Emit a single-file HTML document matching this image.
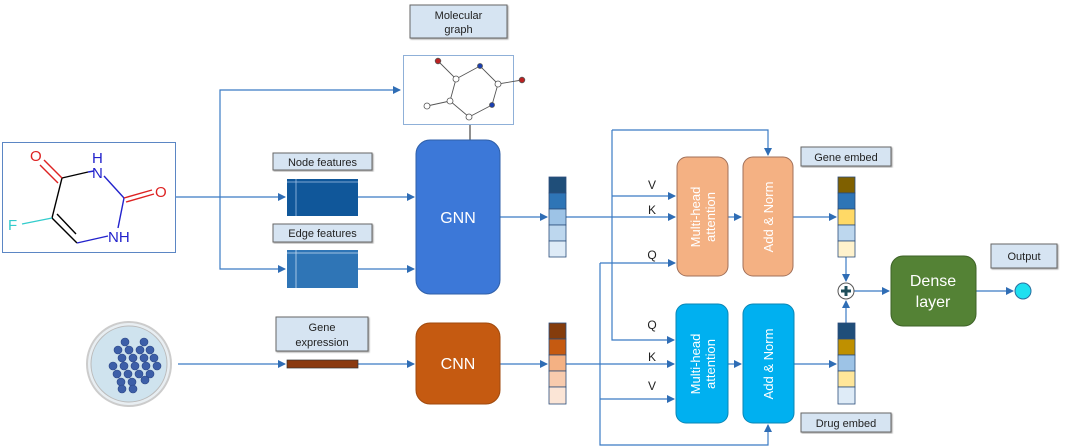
<!DOCTYPE html>
<html><head><meta charset="utf-8"><style>
body{margin:0;background:#fff;}
svg{display:block;font-family:"Liberation Sans",sans-serif;}
</style></head><body>
<svg width="1080" height="448" viewBox="0 0 1080 448" xmlns="http://www.w3.org/2000/svg">
<defs>
<marker id="a" markerWidth="8" markerHeight="8" refX="7" refY="4" orient="auto" markerUnits="userSpaceOnUse"><path d="M0,0 L8,4 L0,8 z" fill="#2f6db5"/></marker>
<filter id="sh"><feDropShadow dx="1" dy="1" stdDeviation="0.8" flood-color="#666" flood-opacity="0.6"/></filter>
</defs>
<g stroke="#3b7bc4" stroke-width="1.2" fill="none">
<path d="M176,197 H285" marker-end="url(#a)"/>
<path d="M220,197 V90 H400" marker-end="url(#a)"/>
<path d="M220,197 V269 H285" marker-end="url(#a)"/>
<path d="M358,197 H414" marker-end="url(#a)"/>
<path d="M358,269 H414" marker-end="url(#a)"/>
<path d="M178,364 H285" marker-end="url(#a)"/>
<path d="M358,364 H414" marker-end="url(#a)"/>
<path d="M500,217 H547" marker-end="url(#a)"/>
<path d="M500,364 H547" marker-end="url(#a)"/>
<path d="M566,217 H675" marker-end="url(#a)"/>
<path d="M612,130 V340 H674" marker-end="url(#a)"/>
<path d="M612,196 H675" marker-end="url(#a)"/>
<path d="M612,130 H768 V155" marker-end="url(#a)"/>
<path d="M728,217 H741" marker-end="url(#a)"/>
<path d="M793,217 H836" marker-end="url(#a)"/>
<path d="M566,364 H674" marker-end="url(#a)"/>
<path d="M600,263 H675" marker-end="url(#a)"/>
<path d="M600,263 V445 H768 V425" marker-end="url(#a)"/>
<path d="M600,399 H674" marker-end="url(#a)"/>
<path d="M728,364 H741" marker-end="url(#a)"/>
<path d="M794,364 H836" marker-end="url(#a)"/>
<path d="M846,257 V281" marker-end="url(#a)"/>
<path d="M846,323 V301" marker-end="url(#a)"/>
<path d="M854,291 H889" marker-end="url(#a)"/>
<path d="M976,291 H1013" marker-end="url(#a)"/>
</g>
<line x1="470" y1="125" x2="470" y2="140" stroke="#222" stroke-width="1"/>
<rect x="2.5" y="142.5" width="173" height="110" fill="#fff" stroke="#5b86c4" stroke-width="1"/>
<g stroke-width="1.4" fill="none">
<path d="M62,178 L52,218" stroke="#000"/>
<path d="M52,218 L77,243" stroke="#000"/><path d="M57,214 L76,234" stroke="#000"/>
<path d="M62,178 L88,172" stroke="#000"/><path d="M88,172 L94,171" stroke="#2222cc"/>
<path d="M104,176 L124,198" stroke="#2222cc"/>
<path d="M124,198 L118,228" stroke="#2222cc"/>
<path d="M77,243 L108,236" stroke="#2222cc"/>
<path d="M62,178 L44,160" stroke="#d22"/><path d="M58,183 L40,165" stroke="#d22"/>
<path d="M124,198 L152,190" stroke="#d22"/><path d="M126,202 L154,194" stroke="#d22"/>
<path d="M52,218 L22,224" stroke="#3cc"/>
</g>
<g font-size="15">
<text x="30" y="161" fill="#d22">O</text>
<text x="155" y="197" fill="#d22">O</text>
<text x="92" y="163" fill="#2222cc">H</text>
<text x="92" y="178" fill="#2222cc">N</text>
<text x="108" y="242" fill="#2222cc">NH</text>
<text x="8" y="230" fill="#3cc">F</text>
</g>
<rect x="410" y="5" width="97" height="33" fill="#d6e4f2" stroke="#666" filter="url(#sh)"/>
<text x="458.5" y="19" font-size="11" text-anchor="middle" fill="#222">Molecular</text>
<text x="458.5" y="33" font-size="11" text-anchor="middle" fill="#222">graph</text>
<rect x="403.5" y="55.5" width="110" height="69" fill="#fff" stroke="#8fb0d8"/>
<path d="M438,61 L456,79 L480,66 L498,84 L522,80 M498,84 L492,105 L469,117 L450,101 L456,79 M450,101 L427,106" stroke="#555" stroke-width="0.9" fill="none"/>
<g stroke="#555" stroke-width="0.8">
<circle cx="438" cy="61" r="2.8" fill="#b22"/><circle cx="522" cy="80" r="2.8" fill="#b22"/>
<circle cx="480" cy="66" r="2.5" fill="#1a3fb0"/><circle cx="492" cy="105" r="2.5" fill="#1a3fb0"/>
<circle cx="456" cy="79" r="3" fill="#fff"/><circle cx="498" cy="84" r="3" fill="#fff"/>
<circle cx="450" cy="101" r="3" fill="#fff"/><circle cx="427" cy="106" r="3" fill="#fff"/>
<circle cx="469" cy="117" r="3" fill="#fff"/>
</g>
<rect x="273" y="153" width="99" height="17" fill="#d6e4f2" stroke="#666" filter="url(#sh)"/>
<text x="322.5" y="166" font-size="11" text-anchor="middle" fill="#222">Node features</text>
<rect x="287" y="179" width="71" height="37" fill="#10579a"/>
<path d="M287,182 H358 M296,179 V216" stroke="#9ec0e6" stroke-width="0.8"/>
<rect x="273" y="224" width="99" height="18" fill="#d6e4f2" stroke="#666" filter="url(#sh)"/>
<text x="322.5" y="237" font-size="11" text-anchor="middle" fill="#222">Edge features</text>
<rect x="287" y="250" width="71" height="38" fill="#2f75b6"/>
<path d="M287,253 H358 M296,250 V288" stroke="#c5daf0" stroke-width="0.8"/>
<rect x="416" y="140" width="84" height="154" rx="14" fill="#3c78d8" stroke="#2f5fa8"/>
<text x="458" y="223" font-size="16" fill="#fff" text-anchor="middle">GNN</text>
<circle cx="129" cy="364" r="42" fill="#e8eef2" stroke="#ccc" stroke-width="2"/>
<circle cx="129" cy="364" r="38" fill="#cfe3ee" stroke="#bbb"/>
<g fill="#3d5fa8" stroke="#2a4585" stroke-width="0.6">
<circle cx="125" cy="342" r="4"/><circle cx="144" cy="342" r="4"/>
<circle cx="118" cy="350" r="4"/><circle cx="129" cy="350" r="4"/><circle cx="140" cy="350" r="4"/><circle cx="150" cy="350" r="4"/>
<circle cx="122" cy="358" r="4"/><circle cx="133" cy="358" r="4"/><circle cx="144" cy="358" r="4"/><circle cx="154" cy="358" r="4"/>
<circle cx="113" cy="366" r="4"/><circle cx="124" cy="366" r="4"/><circle cx="135" cy="366" r="4"/><circle cx="146" cy="366" r="4"/><circle cx="157" cy="366" r="4"/>
<circle cx="117" cy="374" r="4"/><circle cx="128" cy="374" r="4"/><circle cx="139" cy="374" r="4"/><circle cx="150" cy="374" r="4"/>
<circle cx="121" cy="382" r="4"/><circle cx="132" cy="382" r="4"/><circle cx="145" cy="380" r="4"/>
<circle cx="122" cy="389" r="4"/><circle cx="133" cy="389" r="4"/>
</g>
<rect x="276" y="317" width="92" height="34" fill="#d6e4f2" stroke="#666" filter="url(#sh)"/>
<text x="322" y="331" font-size="11" text-anchor="middle" fill="#222">Gene</text>
<text x="322" y="346" font-size="11" text-anchor="middle" fill="#222">expression</text>
<rect x="287" y="360" width="71" height="8" fill="#8b3a10" stroke="#333" stroke-width="0.7"/>
<rect x="416" y="323" width="84" height="81" rx="14" fill="#c55a11" stroke="#a04a0e"/>
<text x="458" y="369" font-size="16" fill="#fff" text-anchor="middle">CNN</text>
<g stroke="#2b4d7a" stroke-width="0.8">
<rect x="549" y="177" width="17" height="16" fill="#1f4e79"/><rect x="549" y="193" width="17" height="16" fill="#2e75b6"/>
<rect x="549" y="209" width="17" height="16" fill="#9dc3e6"/><rect x="549" y="225" width="17" height="16" fill="#bdd7ee"/>
<rect x="549" y="241" width="17" height="16" fill="#deebf7"/>
<rect x="549" y="323" width="17" height="16" fill="#843c0c"/><rect x="549" y="339" width="17" height="16" fill="#c55a11"/>
<rect x="549" y="355" width="17" height="16" fill="#f4b183"/><rect x="549" y="371" width="17" height="16" fill="#f8cbad"/>
<rect x="549" y="387" width="17" height="17" fill="#fbe5d6"/>
<rect x="838" y="177" width="17" height="16" fill="#7f6000"/><rect x="838" y="193" width="17" height="16" fill="#2e75b6"/>
<rect x="838" y="209" width="17" height="16" fill="#ffd966"/><rect x="838" y="225" width="17" height="16" fill="#bdd7ee"/>
<rect x="838" y="241" width="17" height="16" fill="#fff2cc"/>
<rect x="838" y="323" width="17" height="16" fill="#1f4e79"/><rect x="838" y="339" width="17" height="16" fill="#bf9000"/>
<rect x="838" y="355" width="17" height="16" fill="#9dc3e6"/><rect x="838" y="371" width="17" height="16" fill="#ffe699"/>
<rect x="838" y="387" width="17" height="17" fill="#deebf7"/>
</g>
<rect x="677" y="157" width="51" height="119" rx="10" fill="#f4b183" stroke="#a0705a"/>
<rect x="743" y="157" width="50" height="119" rx="10" fill="#f4b183" stroke="#a0705a"/>
<rect x="676" y="304" width="52" height="119" rx="10" fill="#00b0f0" stroke="#0a86b5"/>
<rect x="743" y="304" width="51" height="119" rx="10" fill="#00b0f0" stroke="#0a86b5"/>
<g fill="#fff" font-size="13" text-anchor="middle">
<text transform="translate(700,217) rotate(-90)">Multi-head</text>
<text transform="translate(715,217) rotate(-90)">attention</text>
<text transform="translate(773,217) rotate(-90)">Add &amp; Norm</text>
<text transform="translate(700,364) rotate(-90)">Multi-head</text>
<text transform="translate(715,364) rotate(-90)">attention</text>
<text transform="translate(773,364) rotate(-90)">Add &amp; Norm</text>
</g>
<g font-size="12" fill="#222" text-anchor="middle">
<text x="652" y="189">V</text><text x="652" y="214">K</text><text x="652" y="259">Q</text>
<text x="652" y="329">Q</text><text x="652" y="361">K</text><text x="652" y="390">V</text>
</g>
<rect x="801" y="147" width="90" height="19" fill="#d6e4f2" stroke="#666" filter="url(#sh)"/>
<text x="846" y="161" font-size="11" text-anchor="middle" fill="#222">Gene embed</text>
<rect x="801" y="413" width="90" height="19" fill="#d6e4f2" stroke="#666" filter="url(#sh)"/>
<text x="846" y="427" font-size="11" text-anchor="middle" fill="#222">Drug embed</text>
<circle cx="846" cy="291" r="8" fill="#fff" stroke="#555"/>
<path d="M846,286 V296 M841,291 H851" stroke="#1f4e5a" stroke-width="3"/>
<rect x="891" y="256" width="85" height="70" rx="12" fill="#548235" stroke="#3e6327"/>
<text x="933" y="286" font-size="16" fill="#fff" text-anchor="middle">Dense</text>
<text x="933" y="307" font-size="16" fill="#fff" text-anchor="middle">layer</text>
<rect x="991" y="244" width="66" height="24" fill="#d6e4f2" stroke="#666" filter="url(#sh)"/>
<text x="1024" y="260" font-size="11" text-anchor="middle" fill="#222">Output</text>
<circle cx="1023" cy="291" r="8" fill="#1ee0f0" stroke="#2a6fa0"/>
</svg>
</body></html>
